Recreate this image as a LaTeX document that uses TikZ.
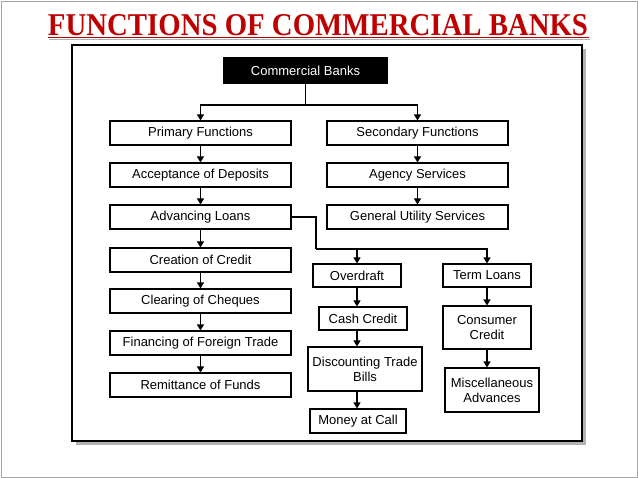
\documentclass[tikz,border=0pt]{standalone}
\usepackage{fontspec}
\setmainfont{Liberation Sans}
\newfontfamily\titlefont{Liberation Serif}
\usetikzlibrary{arrows.meta}
\begin{document}
\begin{tikzpicture}[x=1bp,y=-1bp,
  box/.style={draw,line width=1.1pt,fill=white,inner sep=0pt,font=\fontsize{13bp}{15bp}\selectfont,align=center},
  arr/.style={line width=1.1pt,-{Triangle[length=6bp,width=7bp]}},
  ln/.style={line width=1.1pt}]
\useasboundingbox (0,0) rectangle (638,478);
\draw[gray!70,line width=0.8pt] (1,1) rectangle (637,477);
\fill[gray!60] (76,49) rectangle (586,445);
\draw[line width=2pt,fill=white] (72,45) rectangle (582,441);
\node[text=red!75!black,inner sep=0pt] (title) at (318,25) {\resizebox{540bp}{21bp}{\titlefont\bfseries FUNCTIONS OF COMMERCIAL BANKS}};
\draw[red!70!black,line width=1.2pt] (48,37.5) -- (589,37.5);
\draw[gray!60,line width=1pt] (49,39.5) -- (590,39.5);
\node[box,fill=black,text=white,minimum width=163bp,minimum height=25bp] (cb) at (305.5,70.5) {Commercial Banks};
\foreach \n/\y/\t in {pf/133/Primary Functions, ad/175/Acceptance of Deposits, al/217/Advancing Loans, cc/260/Creation of Credit, ch/301/Clearing of Cheques, ff/343/Financing of Foreign Trade, rf/385/Remittance of Funds}
  \node[box,minimum width=181bp,minimum height=24bp] (\n) at (200.5,\y) {\t};
\foreach \n/\y/\t in {sf/133/Secondary Functions, as/175/Agency Services, gu/217/General Utility Services}
  \node[box,minimum width=181bp,minimum height=24bp] (\n) at (417.5,\y) {\t};
\node[box,minimum width=88bp,minimum height=23bp] (od) at (357,275.5) {Overdraft};
\node[box,minimum width=88bp,minimum height=23bp] (cr) at (363,318.5) {Cash Credit};
\node[box,minimum width=114bp,minimum height=44bp] (dt) at (365,369) {Discounting Trade\\Bills};
\node[box,minimum width=96bp,minimum height=24bp] (mc) at (358,421) {Money at Call};
\node[box,minimum width=88bp,minimum height=23bp] (tl) at (487,275.5) {Term Loans};
\node[box,minimum width=88bp,minimum height=43bp] (con) at (487,327.5) {Consumer\\Credit};
\node[box,minimum width=94bp,minimum height=44bp] (ma) at (492,390) {Miscellaneous\\Advances};
\coordinate (j1) at (305.5,105);
\coordinate (j2) at (316,249);
\draw[ln] (cb.south) -- (j1);
\draw[arr] (j1) -| (pf.north);
\draw[arr] (j1) -| (sf.north);
\foreach \a/\b in {pf/ad,ad/al,al/cc,cc/ch,ch/ff,ff/rf,sf/as,as/gu}
  \draw[arr] (\a) -- (\b);
\draw[ln] (al.east) -| (j2);
\draw[arr] (j2) -| (od.north);
\draw[arr] (j2) -| (tl.north);
\draw[arr] (od.south) -- (od.south|-cr.north);
\draw[arr] (od.south|-cr.south) -- (od.south|-dt.north);
\draw[arr] (od.south|-dt.south) -- (od.south|-mc.north);
\draw[arr] (tl) -- (con);
\draw[arr] (con.south) -- (con.south|-ma.north);
\end{tikzpicture}
\end{document}
